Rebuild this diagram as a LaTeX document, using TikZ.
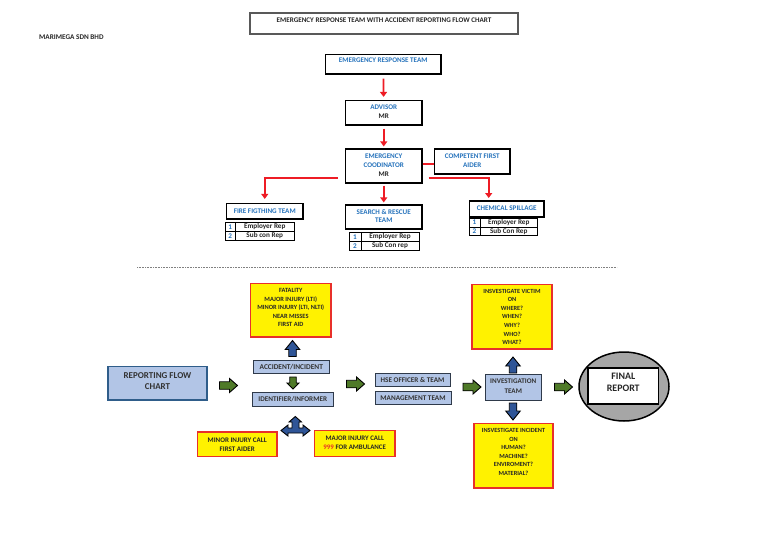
\documentclass[tikz,border=0pt]{standalone}
\usepackage{fontspec}
\setmainfont{Carlito}
\usetikzlibrary{shapes.geometric,arrows.meta}
\definecolor{teamblue}{HTML}{2673BC}
\definecolor{lightblue}{HTML}{B2C5E6}
\definecolor{darkframe}{HTML}{2F3A4A}
\definecolor{repframe}{HTML}{2F5D8A}
\definecolor{arrowgreen}{HTML}{4F7A28}
\definecolor{arrowblue}{HTML}{2F5597}
\definecolor{redline}{HTML}{EE1C25}
\definecolor{boxred}{HTML}{E8302A}
\definecolor{ovalgray}{HTML}{A6A6A6}
\newcommand{\lns}[4]{\raisebox{\dimexpr#1pt-2.7pt\relax}[0pt][0pt]{\fontsize{#2}{#3}\selectfont\begin{tabular}{@{}c@{}}#4\end{tabular}}}
% styled box given by its corners
\newcommand{\nb}[7][]{\node[#2,#1,minimum width={(#5-#3)*1pt},minimum height={(#6-#4)*1pt}] (#7) at ({(#3+#5)/2},{(#4+#6)/2})}
% block arrow: x, y, angle, length, head length, shaft width, head width, style
\newcommand{\barrow}[8]{\begin{scope}[shift={(#1,#2)},rotate=#3]
\draw[#8] ({-(#4)/2},{-(#6)/2}) -- ({(#4)/2-(#5)},{-(#6)/2}) -- ({(#4)/2-(#5)},{-(#7)/2}) -- ({(#4)/2},0) -- ({(#4)/2-(#5)},{(#7)/2}) -- ({(#4)/2-(#5)},{(#6)/2}) -- ({-(#4)/2},{(#6)/2}) -- cycle;
\end{scope}}
\tikzset{
  plainbox/.style={draw=black,fill=white,line width=1.2pt,inner sep=0pt,font=\bfseries\color{black!85}},
  titlebox/.style={draw=black!65,fill=white,line width=1.4pt,inner sep=0pt,font=\bfseries\color{black!85}},
  cell/.style={draw=black,fill=white,line width=.7pt,inner sep=0pt,font=\bfseries\fontsize{7.2}{8}\selectfont\color{black!85}},
  yelbox/.style={draw=boxred,fill=yellow,line width=1.1pt,inner sep=0pt,font=\bfseries\color{black!85}},
  bluebox/.style={draw=darkframe,fill=lightblue,line width=1pt,inner sep=0pt,font=\bfseries\color{black!80}},
  repbox/.style={draw=repframe,fill=lightblue,line width=1.5pt,inner sep=0pt,font=\bfseries\color{black!80}},
  greenarrow/.style={draw=black,fill=arrowgreen,line width=.9pt},
  bluearrow/.style={draw=black,fill=arrowblue,line width=.9pt},
  redarrow/.style={draw=redline,line width=1.7pt,-{Triangle[length=5pt,width=7pt]}},
  redlink/.style={draw=redline,line width=1.7pt},
  elbowrun/.style={draw=redline,line width=2.2pt},
  divider/.style={draw=black!50,line width=.8pt,dash pattern=on 1pt off .6pt},
}
\begin{document}
\begin{tikzpicture}[x=1pt,y=-1pt]
\useasboundingbox (0,0) rectangle (768,543);
\fill[white] (0,0) rectangle (768,543);
% heading
\nb{titlebox}{250}{13}{518}{34}{title} {\lns{3.4}{7.1}{8}{EMERGENCY RESPONSE TEAM WITH ACCIDENT REPORTING FLOW CHART}};
\node[font=\bfseries\fontsize{7.2}{8}\selectfont\color{black!85},anchor=west,inner sep=0pt] (company) at (39,37.5) {MARIMEGA SDN BHD};
% upper chart
\nb{plainbox}{325.5}{54.5}{441}{74}{ert} {\lns{4}{7.1}{8}{\color{teamblue}EMERGENCY RESPONSE TEAM}};
\nb{plainbox}{345.5}{100.5}{422}{125}{adv} {\lns{1.25}{7.1}{9}{\color{teamblue}ADVISOR\\MR}};
\nb{plainbox}{345.5}{149}{422}{183}{ec} {\lns{1}{7.1}{9}{\color{teamblue}EMERGENCY\\\color{teamblue}COODINATOR\\MR}};
\nb{plainbox}{434.5}{149}{510}{174}{cfa} {\lns{1}{7.1}{9}{\color{teamblue}COMPETENT FIRST\\\color{teamblue}AIDER}};
\nb{plainbox}{226.5}{203.5}{303}{219}{fire} {\lns{0}{7.1}{8}{\color{teamblue}FIRE FIGTHING TEAM}};
\nb{plainbox}{345.5}{205}{422}{229}{sar} {\lns{1.25}{7.1}{8.7}{\color{teamblue}SEARCH \& RESCUE\\\color{teamblue}TEAM}};
\nb{plainbox}{469.5}{201}{544}{217}{chem} {\lns{1.5}{7.1}{8}{\color{teamblue}CHEMICAL SPILLAGE}};
% representative tables
\nb{cell}{225}{222.5}{235.5}{231.5}{fireA} {\textcolor{teamblue}{1}};
\nb{cell}{235.5}{222.5}{294}{231.5}{fireB} {Employer Rep};
\nb{cell}{225}{231.5}{235.5}{240.5}{fireC} {\textcolor{teamblue}{2}};
\nb{cell}{235.5}{231.5}{294}{240.5}{fireD} {Sub con Rep};
\nb{cell}{349}{232.5}{361}{241.5}{sarA} {\textcolor{teamblue}{1}};
\nb{cell}{361}{232.5}{419}{241.5}{sarB} {Employer Rep};
\nb{cell}{349}{241.5}{361}{250}{sarC} {\textcolor{teamblue}{2}};
\nb{cell}{361}{241.5}{419}{250}{sarD} {Sub Con rep};
\nb{cell}{469}{218}{480}{227}{chemA} {\textcolor{teamblue}{1}};
\nb{cell}{480}{218}{537.5}{227}{chemB} {Employer Rep};
\nb{cell}{469}{227}{480}{235.5}{chemC} {\textcolor{teamblue}{2}};
\nb{cell}{480}{227}{537.5}{235.5}{chemD} {Sub Con Rep};
% red connectors
\draw[redarrow,shorten <=4pt,shorten >=3pt] (ert) -- (adv);
\draw[redarrow,shorten <=3pt,shorten >=2pt] (adv) -- (ec);
\draw[redarrow,shorten <=2pt,shorten >=2pt] (ec) -- (sar);
\draw[redlink] ([yshift=2pt]ec.east) -- ([yshift=2pt]ec.east -| cfa.west);
\coordinate (ecL) at ([xshift=-7pt,yshift=5.5pt]ec.south west);
\coordinate (ecR) at ([xshift=6pt,yshift=5.5pt]ec.south east);
\coordinate (fireBend) at (ecL -| fire.north);
\coordinate (chemTop) at (488.7,201);
\coordinate (chemBend) at (ecR -| chemTop);
\draw[elbowrun] ([xshift=-.85pt]fireBend) -- (ecL);
\draw[redarrow,shorten >=4pt] (fireBend) -- (fire.north);
\draw[elbowrun] (ecR) -- ([xshift=.85pt]chemBend);
\draw[redarrow,shorten >=3pt] (chemBend) -- (chemTop);
% divider
\coordinate (divL) at (137,267.5);
\coordinate (divR) at (617,267.5);
\draw[divider] (divL) -- (divR);
% reporting flow
\nb{repbox}{108}{366.5}{207}{400}{rep} {\lns{2}{9}{11}{REPORTING FLOW\\CHART}};
\nb{yelbox}{250.5}{283.5}{331}{337}{sev} {\lns{3.6}{6.4}{8.5}{FATALITY\\MAJOR INJURY (LTI)\\MINOR INJURY (LTI, NLTI)\\NEAR MISSES\\FIRST AID}};
\nb{bluebox}{253.5}{360.5}{329}{373}{acc} {\lns{0}{7.4}{8}{ACCIDENT/INCIDENT}};
\nb{bluebox}{252.5}{392}{333}{406}{idn} {\lns{0}{7.2}{8}{IDENTIFIER/INFORMER}};
\nb{yelbox}{197.5}{432}{277}{456.5}{minor} {\lns{0}{7}{9.2}{MINOR INJURY CALL\\FIRST AIDER}};
\nb{yelbox}{314.5}{430.5}{395}{456.5}{major} {\lns{1.5}{6.9}{9}{MAJOR INJURY CALL\\\textcolor{boxred}{999} FOR AMBULANCE}};
\nb{bluebox}{375}{373.5}{450}{386.5}{hse} {\lns{0}{7.2}{8}{HSE OFFICER \& TEAM}};
\nb{bluebox}{375}{391}{451}{404}{mgt} {\lns{0}{7.2}{8}{MANAGEMENT TEAM}};
\nb{bluebox}{485}{374.5}{541.5}{400}{inv} {\lns{1.25}{7.1}{10}{INVESTIGATION\\TEAM}};
\nb{yelbox}{472}{284.5}{552}{349}{vic} {\lns{.75}{6.3}{8.6}{INSVESTIGATE VICTIM\\ON\\WHERE?\\WHEN?\\WHY?\\WHO?\\WHAT?}};
\nb{yelbox}{474}{423.5}{553}{488}{inc} {\lns{4.7}{6.3}{8.5}{INSVESTIGATE INCIDENT\\ON\\HUMAN?\\MACHINE?\\ENVIROMENT?\\MATERIAL?}};
\node[draw=black,fill=ovalgray,line width=1.5pt,ellipse,inner sep=0pt,minimum width=90pt,minimum height=69pt] (oval) at (624,386.5) {};
\nb{plainbox}{588}{368}{658.5}{404}{final} {\lns{3}{9.9}{12.5}{FINAL\\REPORT}};
% block arrows
\barrow{228.5}{385.5}{0}{18}{8}{7.5}{14}{greenarrow}
\barrow{355.5}{384}{0}{18}{8}{7.5}{14}{greenarrow}
\barrow{472}{387}{0}{18}{8}{7.5}{14}{greenarrow}
\barrow{563.5}{387}{0}{18}{8}{7.5}{14}{greenarrow}
\barrow{293}{383}{-90}{12}{6}{6.5}{12}{greenarrow}
\barrow{292.5}{348.5}{90}{16}{9}{7.5}{14.5}{bluearrow}
\barrow{513}{365}{90}{16}{9}{7.5}{14.5}{bluearrow}
\barrow{513}{411.5}{-90}{17}{9}{7.5}{14.5}{bluearrow}
% three-way arrow
\draw[bluearrow] (295.3,416.5) -- (301.5,422) -- (299,422) -- (299,428) -- (303,428) -- (303,425) -- (310,430.5) -- (303,436) -- (303,433) -- (288,433) -- (288,436) -- (281,430.5) -- (288,425) -- (288,428) -- (292,428) -- (292,422) -- (289,422) -- cycle;
\end{tikzpicture}
\end{document}
